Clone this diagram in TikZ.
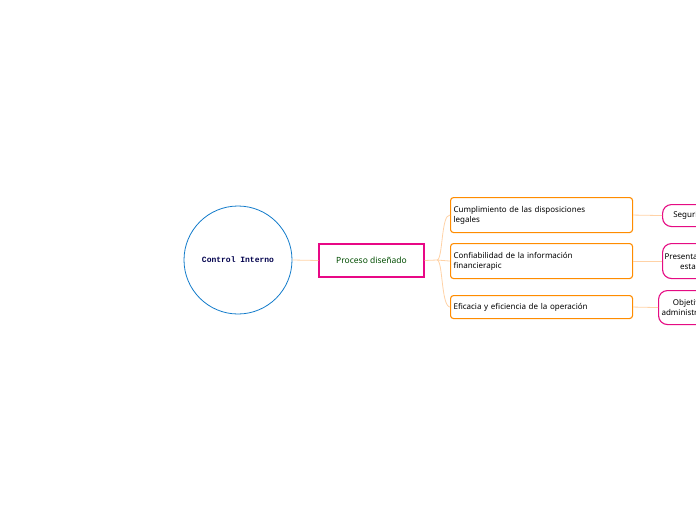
\documentclass[tikz,border=0pt]{standalone}
\usepackage{fontspec}
\setmainfont{Noto Sans}
\newfontfamily\monof{Liberation Mono}
\begin{document}
\begin{tikzpicture}[x=1pt,y=-1pt,
  obox/.style={draw=orange!90!yellow,line width=1.1pt,rounded corners=3pt,anchor=north west,align=left,inner sep=3pt,font=\fontsize{8}{10}\selectfont,text width=#1},
  mbox/.style={draw=magenta!85!purple,line width=1.1pt,rounded corners=9pt,anchor=north west,align=center,font=\fontsize{8}{10}\selectfont,inner sep=2pt},
  conn/.style={draw=orange!35,line width=0.8pt}]
\useasboundingbox (0,0) rectangle (696,520);
\clip (0,0) rectangle (696,520);
\node[circle,draw=cyan!60!blue,line width=0.8pt,minimum size=108pt,inner sep=0,font=\monof\bfseries\fontsize{8}{10}\selectfont,text=blue!30!black] (ci) at (238,260) {Control Interno};
\node[draw=magenta!90!purple,line width=1.1pt,minimum width=105pt,minimum height=33pt,inner sep=0,font=\bfseries\fontsize{8.5}{10}\selectfont,text=green!30!black] (pd) at (371.5,260.5) {Proceso diseñado};
\draw[conn] (ci.east) -- (pd.west);
\node[obox=176pt,minimum height=35pt] (c1) at (450,197) {Cumplimiento de las disposiciones\\legales};
\node[obox=176pt,minimum height=35pt] (c2) at (450,243) {Confiabilidad de la información\\financierapic};
\node[obox=176pt,minimum height=23pt] (c3) at (450,295) {Eficacia y eficiencia de la operación};
\coordinate (br) at (437,260);
\draw[conn] (pd.east) -- (br) -- (c2.west);
\draw[conn] (br) .. controls (443,260) and (441,214) .. (c1.west);
\draw[conn] (br) .. controls (443,260) and (441,306) .. (c3.west);
\node[mbox,minimum height=22pt,minimum width=60pt] (r1) at (662,204) {Seguridad};
\node[mbox,minimum height=35pt,minimum width=60pt] (r2) at (662,243) {Presentación de\\estados};
\node[mbox,minimum height=34pt,minimum width=64pt] (r3) at (658,290) {Objetivos\\administrativos};
\draw[conn] (c1.east) -- (r1.west);
\draw[conn] (c2.east) -- (r2.west);
\draw[conn] (c3.east) -- (r3.west);
\end{tikzpicture}
\end{document}
